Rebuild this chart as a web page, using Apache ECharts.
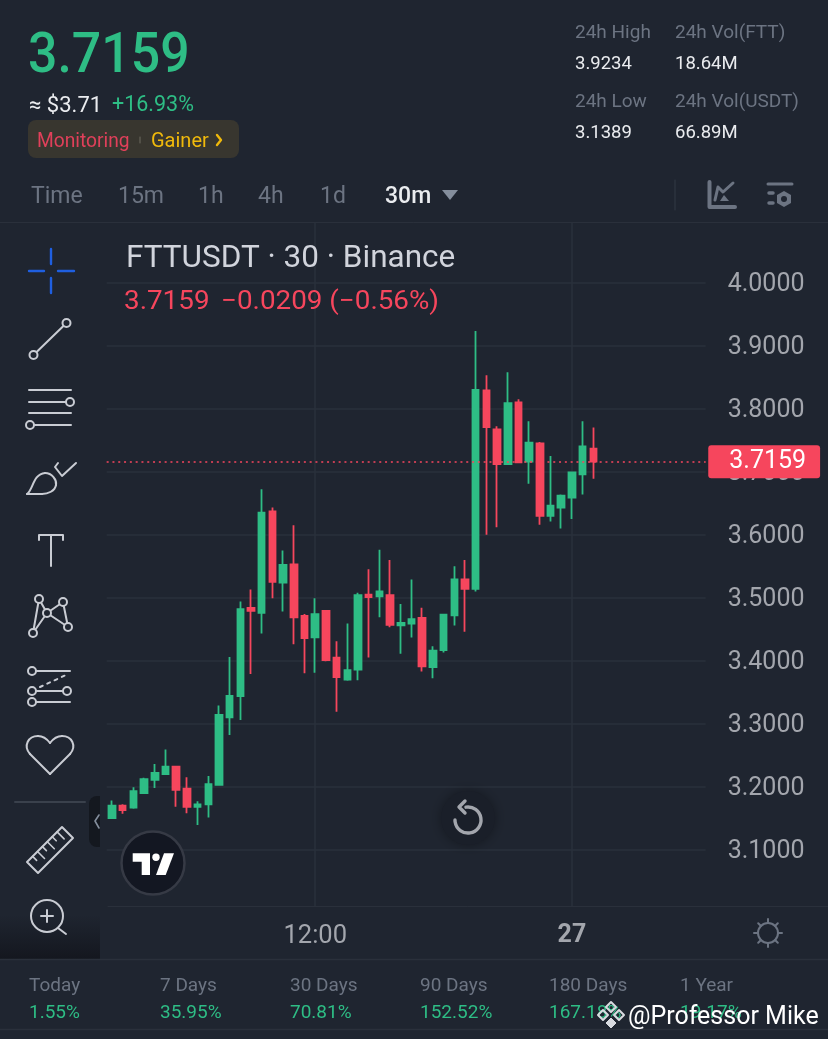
<!DOCTYPE html>
<html>
<head>
<meta charset="utf-8">
<title>FTTUSDT</title>
<style>
html,body{margin:0;padding:0;background:#1f2530;}
#main{width:828px;height:1039px;}
</style>
<script src="https://cdn.jsdelivr.net/npm/echarts@6/dist/echarts.min.js"></script>
</head>
<body>
<div id="main"></div>
<script>
// 30m candles
var categories = ['02:30','03:00','03:30','04:00','04:30','05:00','05:30','06:00','06:30','07:00','07:30','08:00','08:30','09:00','09:30','10:00','10:30','11:00','11:30','12:00','12:30','13:00','13:30','14:00','14:30','15:00','15:30','16:00','16:30','17:00','17:30','18:00','18:30','19:00','19:30','20:00','20:30','21:00','21:30','22:00','22:30','23:00','23:30','00:00','00:30','01:00','01:30','02:00','02:30+','03:00+','03:30+','04:00+','04:30+','05:00+','05:30+','06:00+'];
var opens  = [3.150,3.170,3.167,3.190,3.211,3.220,3.232,3.197,3.168,3.172,3.203,3.310,3.344,3.484,3.476,3.637,3.524,3.553,3.471,3.437,3.479,3.405,3.370,3.386,3.505,3.502,3.504,3.456,3.459,3.468,3.390,3.417,3.472,3.529,3.514,3.829,3.767,3.712,3.810,3.716,3.745,3.630,3.643,3.659,3.696,3.7368];
var closes = [3.170,3.163,3.193,3.212,3.222,3.232,3.195,3.168,3.172,3.204,3.314,3.344,3.482,3.479,3.635,3.525,3.552,3.469,3.436,3.474,3.401,3.374,3.385,3.504,3.501,3.510,3.457,3.460,3.466,3.391,3.416,3.473,3.529,3.514,3.830,3.771,3.712,3.809,3.715,3.746,3.630,3.646,3.662,3.699,3.740,3.7159];
var lows   = [3.150,3.157,3.165,3.189,3.198,3.220,3.168,3.158,3.139,3.151,3.203,3.282,3.306,3.379,3.443,3.499,3.478,3.426,3.380,3.381,3.399,3.319,3.368,3.369,3.405,3.469,3.453,3.411,3.437,3.383,3.372,3.413,3.456,3.446,3.510,3.600,3.612,3.712,3.715,3.681,3.616,3.621,3.610,3.625,3.664,3.689];
var highs  = [3.178,3.172,3.199,3.214,3.236,3.259,3.232,3.215,3.177,3.217,3.329,3.406,3.494,3.513,3.672,3.643,3.575,3.615,3.474,3.499,3.479,3.431,3.459,3.508,3.545,3.576,3.560,3.490,3.529,3.484,3.423,3.473,3.550,3.560,3.9234,3.853,3.772,3.858,3.815,3.780,3.747,3.725,3.664,3.699,3.780,3.770];
var yTicks = [3.1,3.2,3.3,3.4,3.5,3.6,3.7,3.8,3.9,4.0];
var lastPrice = 3.7159;
var timeLabels = {'12:00':'12:00','00:00':'27'};

var periodNames  = ['Today','7 Days','30 Days','90 Days','180 Days','1 Year'];
var periodValues = ['1.55%','35.95%','70.81%','152.52%','167.18%','19.17%'];
var tabNames = ['Time','15m','1h','4h','1d'];

var BG = '#1f2530', GRID = '#2a303b', UP = '#2ebd85', DOWN = '#f6465d';
var GREY = '#6c7482', AXIS = '#a3a6ad', ICON = '#c9ccd3', FONT = 'Roboto, sans-serif';

var candles = [];
for (var i = 0; i < opens.length; i++) {
    candles.push([opens[i], closes[i], lows[i], highs[i]]);
}

function isTimeLabel(index, value) {
    return timeLabels[value] !== undefined;
}

// helpers for everything around the chart
function txt(text, x, y, size, fill, weight, sx) {
    return {
        type: 'text', silent: true,
        x: x, y: y + 2,
        scaleX: sx || 1,
        style: {
            text: text, x: 0, y: 0, fill: fill,
            font: (weight || 400) + ' ' + size + 'px ' + FONT,
            textAlign: 'left', textVerticalAlign: 'middle'
        }
    };
}
function seg(x1, y1, x2, y2, color, w, dash) {
    return {
        type: 'line', silent: true,
        shape: {x1: x1, y1: y1, x2: x2, y2: y2},
        style: {stroke: color, lineWidth: w || 2, lineDash: dash, lineCap: 'round'}
    };
}
function ring(cx, cy, r, color, w, fill) {
    return {
        type: 'circle', silent: true,
        shape: {cx: cx, cy: cy, r: r},
        style: {stroke: color, lineWidth: w || 2, fill: fill || BG}
    };
}
function pline(points, color, w) {
    return {
        type: 'polyline', silent: true,
        shape: {points: points},
        style: {stroke: color, lineWidth: w || 2, fill: null, lineJoin: 'round', lineCap: 'round'}
    };
}
function poly(points, fill, stroke, w) {
    return {
        type: 'polygon', silent: true,
        shape: {points: points},
        style: {fill: fill, stroke: stroke, lineWidth: w || 0, lineJoin: 'round'}
    };
}
function curve(x1, y1, c1x, c1y, c2x, c2y, x2, y2, color) {
    return {
        type: 'bezierCurve', silent: true,
        shape: {x1: x1, y1: y1, cpx1: c1x, cpy1: c1y, cpx2: c2x, cpy2: c2y, x2: x2, y2: y2},
        style: {stroke: color, lineWidth: 2, fill: null, lineCap: 'round'}
    };
}

var g = [];

// bottom of the tool panel fades darker
g.push({
    type: 'rect', silent: true,
    shape: {x: 0, y: 915, width: 100, height: 44},
    style: {fill: new echarts.graphic.LinearGradient(0, 0, 0, 1, [{offset: 0, color: BG}, {offset: 1, color: '#14171f'}])}
});

// header
g.push(txt('3.7159', 28, 56, 56, UP, 500, 0.925));
g.push(txt('≈ $3.71', 29, 104, 22, '#eaecef', 400));
g.push(txt('+16.93%', 112, 104, 21.5, UP, 400));
g.push({type: 'rect', silent: true, shape: {x: 28, y: 120, width: 211, height: 38, r: 8}, style: {fill: '#38362f'}});
g.push(txt('Monitoring', 37, 140, 20, '#e0405a', 400, 0.96));
g.push(seg(140, 137, 140, 143, '#6d6a60', 1));
g.push(txt('Gainer', 151, 140, 20, '#f0b90b'));
g.push(pline([[217, 135], [221, 140], [217, 145]], '#f0b90b', 2.4));

g.push(txt('24h High', 575, 31, 19, GREY));
g.push(txt('24h Vol(FTT)', 675, 31, 19, GREY));
g.push(txt('3.9234', 575, 62, 18.5, '#eaecef'));
g.push(txt('18.64M', 675, 62, 18.5, '#eaecef'));
g.push(txt('24h Low', 575, 100, 19, GREY));
g.push(txt('24h Vol(USDT)', 675, 100, 19, GREY));
g.push(txt('3.1389', 575, 131, 18.5, '#eaecef'));
g.push(txt('66.89M', 675, 131, 18.5, '#eaecef'));

// interval tabs
var tabX = [31, 118, 198, 258, 320];
for (var t = 0; t < tabNames.length; t++) {
    g.push(txt(tabNames[t], tabX[t], 195, 23, GREY));
}
g.push(txt('30m', 385, 195, 23, '#eaecef', 500));
g.push(poly([[442, 190], [458, 190], [450, 200]], '#848e9c'));
g.push(seg(675, 180, 675, 210, '#333a45', 1));
g.push(pline([[709.5, 182], [709.5, 207], [735, 207]], GREY, 4));
g.push(pline([[715, 200], [718, 187], [723, 192], [733, 183]], GREY, 3));
g.push(poly([[720, 201], [724, 195], [729, 201]], GREY));
g.push(seg(768, 184, 792, 184, GREY, 3));
g.push(seg(769, 193, 773, 193, GREY, 3.5));
g.push(seg(769, 203, 773, 203, GREY, 3.5));
g.push(poly([[784, 191], [791, 195], [791, 203], [784, 207], [777, 203], [777, 195]], GREY));
g.push({type: 'circle', silent: true, shape: {cx: 784, cy: 199, r: 3}, style: {fill: BG}});
g.push(seg(0, 222.5, 828, 222.5, GRID, 1));
g.push(seg(108, 906.5, 828, 906.5, GRID, 1));
g.push(seg(0, 959.5, 828, 959.5, GRID, 1.5));
g.push(seg(0, 1029.5, 828, 1029.5, GRID, 1.5));

// chart legend
g.push(txt('FTTUSDT · 30 · Binance', 126, 257, 31.5, '#d1d4dc'));
g.push(txt('3.7159', 124, 300, 26, DOWN, 400, 1.07));
g.push(txt('−0.0209 (−0.56%)', 221, 300, 26, DOWN, 400, 1.07));

// drawing tools
var BLUE = '#1f5fe0';
g.push(seg(51, 249, 51, 264, BLUE, 2.4), seg(51, 278, 51, 293, BLUE, 2.4), seg(29, 271, 44, 271, BLUE, 2.4), seg(58, 271, 74, 271, BLUE, 2.4));
g.push(seg(33.5, 355, 66.5, 323, ICON), ring(66.5, 323, 4, ICON), ring(33.5, 355, 4, ICON));
g.push(seg(29, 390, 71, 390, ICON), seg(29, 402, 66, 402, ICON), ring(70, 402, 4, ICON), seg(29, 413, 71, 413, ICON), seg(34, 425, 71, 425, ICON), ring(30, 425, 4, ICON));
// brush
g.push(curve(27, 494, 33, 490, 33, 474, 45, 473, ICON), curve(45, 473, 52, 473, 57, 480, 56, 485, ICON), curve(56, 485, 55, 491, 48, 494, 42, 494, ICON), seg(42, 494, 27, 494, ICON));
g.push(pline([[58, 463], [55, 467], [62, 476], [76, 463]], ICON));
g.push(pline([[39, 540], [39, 535], [63, 535], [63, 540]], ICON), seg(51, 535, 51, 566, ICON));
g.push(seg(33, 633, 39, 599, ICON), seg(39, 599, 47, 613, ICON), seg(33, 633, 47, 613, ICON), seg(47, 613, 63, 602, ICON), seg(63, 602, 68, 627, ICON), seg(47, 613, 68, 627, ICON));
g.push(ring(39, 599, 4, ICON), ring(63, 602, 4, ICON), ring(47, 613, 4, ICON), ring(33, 633, 4, ICON), ring(68, 627, 4, ICON));
g.push(seg(36, 671, 70, 671, ICON), ring(32, 671, 4, ICON), seg(36, 691, 63, 691, ICON), ring(32, 691, 4, ICON), ring(67, 691, 4, ICON), seg(36, 702, 70, 702, ICON), ring(32, 702, 4, ICON));
g.push(seg(40, 687, 66, 675, ICON, 2, [3, 5]));
// heart
g.push(seg(50, 774, 30, 754, ICON), curve(30, 754, 23, 746, 28, 736, 38, 736, ICON), curve(38, 736, 43, 736, 47, 739, 50, 743, ICON), curve(50, 743, 53, 739, 57, 736, 62, 736, ICON), curve(62, 736, 72, 736, 77, 746, 70, 754, ICON), seg(70, 754, 50, 774, ICON));
g.push(seg(15, 802, 85, 802, '#3a414c', 2));
g.push(poly([[27, 862], [38, 873], [73, 838], [62, 827]], BG, ICON, 2));
var tickAt = [0.16, 0.3, 0.44, 0.58, 0.72, 0.86];
for (var k = 0; k < tickAt.length; k++) {
    var rx = 27 + 35 * tickAt[k], ry = 862 - 35 * tickAt[k], rl = k % 2 ? 7 : 4;
    g.push(seg(rx, ry, rx + rl, ry + rl, ICON, 1.6));
}
g.push(ring(47, 916, 16, ICON, 2, 'transparent'), seg(41, 916, 53, 916, ICON), seg(47, 910, 47, 922, ICON), seg(58, 928, 66, 934, ICON));

// panel handle
g.push({type: 'rect', silent: true, shape: {x: 89, y: 796, width: 11, height: 51, r: [8, 0, 0, 8]}, style: {fill: '#14181f'}});
g.push(pline([[99, 815], [95, 821], [99, 828]], '#848e9c', 1.6));

// tradingview badge
g.push(ring(153, 863, 31.5, '#363a45', 2.5, '#131722'));
g.push(poly([[132.7, 853.3], [150, 853.3], [150, 875], [141.7, 875], [141.7, 861.7], [132.7, 861.7]], '#ffffff'));
g.push({type: 'circle', silent: true, shape: {cx: 156, cy: 857.3, r: 3.7}, style: {fill: '#ffffff'}});
g.push(poly([[164, 853.3], [174, 853.3], [165.7, 875], [156, 875]], '#ffffff'));

// replay button
g.push({
    type: 'circle', silent: true,
    shape: {cx: 468, cy: 818, r: 27},
    style: {fill: '#1a1f29', shadowBlur: 12, shadowColor: 'rgba(0,0,0,0.35)'}
});
g.push({
    type: 'arc', silent: true,
    shape: {cx: 468, cy: 820, r: 13, startAngle: -Math.PI * 0.55, endAngle: Math.PI, clockwise: true},
    style: {stroke: '#a3a6ad', lineWidth: 3.4, fill: null, lineCap: 'round'}
});
g.push(pline([[465, 801], [459, 807], [465, 813]], '#a3a6ad', 3.4));

// settings sun
g.push(ring(768, 933, 10, GREY, 2));
var spokes = [[0, -1], [0.7, -0.7], [1, 0], [0.7, 0.7], [0, 1], [-0.7, 0.7], [-1, 0], [-0.7, -0.7]];
for (var s = 0; s < spokes.length; s++) {
    g.push(seg(768 + spokes[s][0] * 10, 933 + spokes[s][1] * 10, 768 + spokes[s][0] * 14, 933 + spokes[s][1] * 14, GREY, 2));
}

// period stats
var periodX = [29, 160, 290, 420, 549, 680];
for (var p = 0; p < periodNames.length; p++) {
    g.push(txt(periodNames[p], periodX[p], 984, 19, GREY));
    g.push(txt(periodValues[p], periodX[p], 1011, 19, UP));
}

// watermark
var WM = '#d9dbe0';
g.push(poly([[611, 1002], [616, 1007], [611, 1012], [606, 1007]], null, WM, 2));
g.push(poly([[603, 1010], [608, 1015], [603, 1020], [598, 1015]], null, WM, 2));
g.push(poly([[619, 1010], [624, 1015], [619, 1020], [614, 1015]], null, WM, 2));
g.push(poly([[611, 1018], [616, 1023], [611, 1028], [606, 1023]], WM, WM, 1));
g.push(txt('@Professor Mike', 628, 1016, 25, '#ffffff'));

// keep the overlay above the split lines and the candles
g.forEach(function (el) { el.z = 20; });

var chart = echarts.init(document.getElementById('main'));
chart.setOption({
    animation: false,
    backgroundColor: BG,
    textStyle: {fontFamily: FONT},
    grid: {left: 106.65, top: 223, width: 599, height: 683.7},
    xAxis: {
        type: 'category',
        data: categories,
        axisLine: {show: false},
        axisTick: {show: false},
        axisLabel: {
            interval: isTimeLabel,
            margin: 17,
            fontSize: 25.5,
            color: AXIS,
            formatter: function (v) {
                return timeLabels[v] === '27' ? '{day|27}' : timeLabels[v];
            },
            rich: {day: {fontSize: 25, fontWeight: 700, color: AXIS}}
        },
        splitLine: {show: true, alignWithLabel: true, interval: isTimeLabel, lineStyle: {color: GRID, width: 1.5}}
    },
    yAxis: {
        type: 'value',
        position: 'right',
        scale: true,
        min: 3.0095,
        max: 4.0948,
        axisLine: {show: false},
        axisTick: {show: false, customValues: yTicks},
        axisLabel: {
            customValues: yTicks,
            margin: 22,
            fontSize: 25,
            color: AXIS,
            formatter: function (v) { return '{v|' + v.toFixed(4) + '}'; },
            rich: {v: {fontSize: 25, color: AXIS, padding: [5, 0, 0, 0]}}
        },
        splitLine: {show: true, lineStyle: {color: GRID, width: 1.5}}
    },
    series: [{
        type: 'candlestick',
        data: candles,
        silent: true,
        barWidth: 7,
        itemStyle: {color: UP, color0: DOWN, borderColor: UP, borderColor0: DOWN, borderWidth: 1.8},
        markLine: {
            silent: true,
            symbol: 'none',
            animation: false,
            precision: 4,
            z: 10,
            lineStyle: {color: DOWN, type: [2, 3.8], width: 1.5},
            label: {
                position: 'end',
                distance: 2.6,
                formatter: function () { return lastPrice.toFixed(4); },
                fontSize: 25,
                color: '#ffffff',
                backgroundColor: DOWN,
                borderRadius: 3,
                padding: [8, 14, 0, 21]
            },
            data: [{yAxis: lastPrice}]
        }
    }],
    graphic: g
});
</script>
</body>
</html>
